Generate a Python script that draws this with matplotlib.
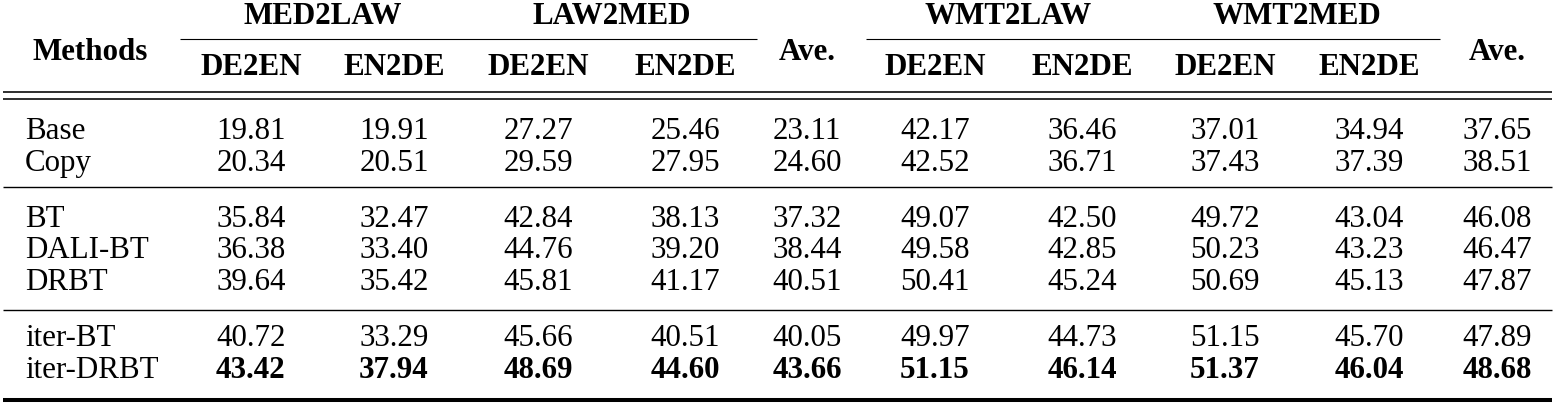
import matplotlib
matplotlib.use("Agg")
import matplotlib.pyplot as plt

# ---- data ----
methods = ["Base", "Copy", "BT", "DALI-BT", "DRBT", "iter-BT", "iter-DRBT"]
groups = ["MED2LAW", "LAW2MED", "WMT2LAW", "WMT2MED"]
directions = ["DE2EN", "EN2DE"]
ave_label = "Ave."
methods_label = "Methods"

med2law_de2en = [19.81, 20.34, 35.84, 36.38, 39.64, 40.72, 43.42]
med2law_en2de = [19.91, 20.51, 32.47, 33.40, 35.42, 33.29, 37.94]
law2med_de2en = [27.27, 29.59, 42.84, 44.76, 45.81, 45.66, 48.69]
law2med_en2de = [25.46, 27.95, 38.13, 39.20, 41.17, 40.51, 44.60]
ave_1 = [23.11, 24.60, 37.32, 38.44, 40.51, 40.05, 43.66]
wmt2law_de2en = [42.17, 42.52, 49.07, 49.58, 50.41, 49.97, 51.15]
wmt2law_en2de = [36.46, 36.71, 42.50, 42.85, 45.24, 44.73, 46.14]
wmt2med_de2en = [37.01, 37.43, 49.72, 50.23, 50.69, 51.15, 51.37]
wmt2med_en2de = [34.94, 37.39, 43.04, 43.23, 45.13, 45.70, 46.04]
ave_2 = [37.65, 38.51, 46.08, 46.47, 47.87, 47.89, 48.68]
bold_rows = ["iter-DRBT"]

columns = [med2law_de2en, med2law_en2de, law2med_de2en, law2med_en2de, ave_1,
           wmt2law_de2en, wmt2law_en2de, wmt2med_de2en, wmt2med_en2de, ave_2]

# ---- layout (pixel coordinates) ----
W, H = 1554, 406
col_x = [251, 394, 538, 685, 807, 935, 1082, 1225, 1369, 1497]
row_base = [139, 171, 227, 258.5, 290, 346.5, 378.5]
methods_x = 25
fs = 22.3
fam = ["Liberation Serif", "DejaVu Serif"]

fig = plt.figure(figsize=(W / 100, H / 100), dpi=100)
ax = fig.add_axes([0, 0, 1, 1])
ax.set_xlim(0, W)
ax.set_ylim(H, 0)
ax.axis("off")

# header
ax.text(90, 60, methods_label, ha="center", va="baseline",
        fontsize=fs, fontweight="bold", family=fam)
group_centers = [(col_x[0] + col_x[1]) / 2, (col_x[2] + col_x[3]) / 2,
                 (col_x[5] + col_x[6]) / 2, (col_x[7] + col_x[8]) / 2]
for g, cx in zip(groups, group_centers):
    ax.text(cx, 24, g, ha="center", va="baseline", fontsize=fs,
            fontweight="bold", family=fam)
sub_cols = [0, 1, 2, 3, 5, 6, 7, 8]
for i, ci in enumerate(sub_cols):
    ax.text(col_x[ci], 75, directions[i % 2], ha="center", va="baseline",
            fontsize=fs, fontweight="bold", family=fam)
for ci in (4, 9):
    ax.text(col_x[ci], 60, ave_label, ha="center", va="baseline",
            fontsize=fs, fontweight="bold", family=fam)

# rules
ax.plot([180, 757], [39.5, 39.5], color="black", lw=0.8, solid_capstyle="butt")
ax.plot([866, 1440], [39.5, 39.5], color="black", lw=0.8, solid_capstyle="butt")
for y in (92.5, 100):
    ax.plot([3, 1552], [y, y], color="black", lw=1.15, solid_capstyle="butt")
for y in (188, 311):
    ax.plot([3, 1552], [y, y], color="black", lw=1.0, solid_capstyle="butt")
ax.plot([3, 1552], [401, 401], color="black", lw=2.9, solid_capstyle="butt")

# body
for r, m in enumerate(methods):
    yb = row_base[r]
    ax.text(methods_x, yb, m, ha="left", va="baseline", fontsize=fs, family=fam)
    weight = "bold" if m in bold_rows else "normal"
    for ci, col in enumerate(columns):
        ax.text(col_x[ci], yb, f"{col[r]:.2f}", ha="center", va="baseline",
                fontsize=fs, fontweight=weight, family=fam)

fig.savefig("out.png", dpi=100)
